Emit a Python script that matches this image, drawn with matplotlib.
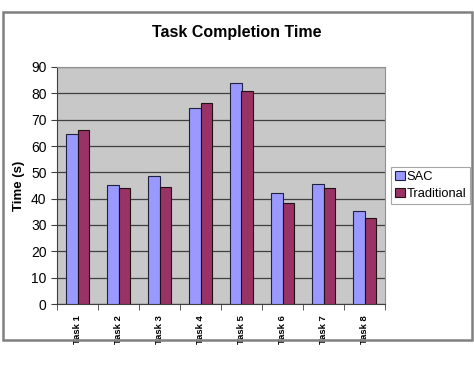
import matplotlib.pyplot as plt
import numpy as np
from matplotlib.patches import Rectangle

tasks = ['Task 1', 'Task 2', 'Task 3', 'Task 4', 'Task 5', 'Task 6', 'Task 7', 'Task 8']
sac = [64.4, 45.3, 48.7, 74.3, 83.8, 42.0, 45.7, 35.3]
traditional = [66.1, 43.9, 44.6, 76.3, 80.9, 38.5, 44.2, 32.5]

W, H = 474, 367
fig = plt.figure(figsize=(W / 100, H / 100), dpi=100)
fig.patch.set_facecolor('white')

# chart frame
fig.patches.append(Rectangle((3 / W, 1 - 340 / H), 469 / W, 328 / H,
                             transform=fig.transFigure, fill=False,
                             edgecolor='#808080', linewidth=1.8))

ax = fig.add_axes([57 / W, 1 - 304 / H, 328 / W, 237 / H])
ax.set_facecolor('#C8C8C8')

x = np.arange(len(tasks))
w = 0.29
ax.bar(x - w / 2, sac, w, color='#9999FF', edgecolor='#202040', linewidth=0.8, label='SAC', zorder=3)
ax.bar(x + w / 2, traditional, w, color='#993366', edgecolor='#201010', linewidth=0.8, label='Traditional', zorder=3)

ax.set_xlim(-0.5, len(tasks) - 0.5)
ax.set_ylim(0, 90)
ax.set_yticks(range(0, 91, 10))
ax.yaxis.grid(True, color='#404040', linewidth=0.9, zorder=1)
ax.set_axisbelow(True)

ax.set_xticks(x)
ax.set_xticklabels(tasks, rotation=90, fontsize=6.8, fontweight='bold', family='Liberation Sans')
ax.set_xticks(np.arange(-0.5, len(tasks)), minor=True)
ax.tick_params(axis='x', which='major', length=0, pad=8)
ax.tick_params(axis='x', which='minor', length=4, color='#404040')
ax.tick_params(axis='y', length=4, color='#404040', labelsize=10)
for lbl in ax.get_yticklabels():
    lbl.set_family('Liberation Sans')

for s in ['top', 'right']:
    ax.spines[s].set_color('#909090')
for s in ['left', 'bottom']:
    ax.spines[s].set_color('#404040')

ax.set_ylabel('Time (s)', fontsize=9.5, fontweight='bold', family='Liberation Sans', labelpad=4)
fig.text(237 / W, 1 - 32 / H, 'Task Completion Time', ha='center', va='center',
         fontsize=11.5, fontweight='bold', family='Liberation Sans')

leg = fig.legend(loc='upper left', bbox_to_anchor=(391 / W, 1 - 167 / H),
                 prop={'family': 'Liberation Sans', 'size': 9.3},
                 frameon=True, fancybox=False, edgecolor='#909090',
                 handlelength=0.75, handleheight=0.75, handletextpad=0.15,
                 borderpad=0.3, borderaxespad=0, labelspacing=0.35)
leg.get_frame().set_linewidth(0.8)

plt.savefig('out.png', dpi=100)
plt.close()
